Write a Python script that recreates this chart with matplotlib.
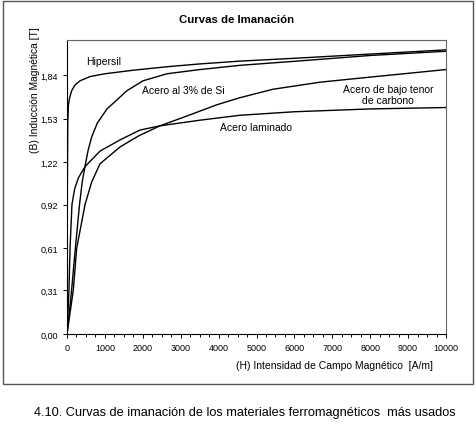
import matplotlib
matplotlib.use("Agg")
import matplotlib.pyplot as plt
from matplotlib.patches import Rectangle
from matplotlib.ticker import MultipleLocator

plt.rcParams['font.family'] = ['Liberation Sans', 'DejaVu Sans']

# H [A/m] and B [T]
h_hipersil = [0, 5, 10, 20, 35, 60, 123, 210, 343, 607, 1000, 1741, 2639, 3509, 4565, 6000, 8000, 10000]
b_hipersil = [0, 0.6, 1.1, 1.5, 1.62, 1.67, 1.73, 1.77, 1.80, 1.83, 1.85, 1.875, 1.90, 1.92, 1.94, 1.96, 1.99, 2.02]

h_si = [0, 120, 220, 330, 400, 480, 560, 650, 800, 1055, 1583, 2005, 2639, 3509, 4565, 6069, 8000, 10000]
b_si = [0, 0.31, 0.61, 0.92, 1.08, 1.20, 1.31, 1.40, 1.50, 1.60, 1.73, 1.80, 1.85, 1.88, 1.91, 1.94, 1.98, 2.01]

h_lam = [0, 50, 80, 130, 200, 300, 475, 870, 1400, 1926, 2454, 3509, 4565, 6000, 8000, 10000]
b_lam = [0, 0.31, 0.61, 0.92, 1.03, 1.11, 1.19, 1.30, 1.38, 1.45, 1.48, 1.52, 1.555, 1.58, 1.60, 1.61]

h_carb = [0, 165, 255, 390, 475, 650, 870, 1400, 1900, 2454, 3166, 3958, 4565, 5435, 6675, 7400, 10000]
b_carb = [0, 0.31, 0.61, 0.80, 0.92, 1.08, 1.21, 1.33, 1.41, 1.48, 1.55, 1.63, 1.68, 1.74, 1.79, 1.81, 1.88]

y_ticks = ["0,00", "0,31", "0,61", "0,92", "1,22", "1,53", "1,84"]
x_ticks = list(range(0, 10001, 1000))

fig = plt.figure(figsize=(4.76, 4.39), dpi=100)
ax = fig.add_axes([0.1408, 0.2369, 0.937 - 0.1408, 0.9066 - 0.2369])

# outer frame around the chart
fig.patches.append(Rectangle((3 / 476, 1 - 385 / 439), 470 / 476, 383 / 439,
                             transform=fig.transFigure, fill=False,
                             edgecolor='#555555', linewidth=1.0))

for h, b in [(h_hipersil, b_hipersil), (h_si, b_si), (h_lam, b_lam), (h_carb, b_carb)]:
    ax.plot(h, b, color='black', linewidth=1.0)

ax.set_xlim(0, 10000)
ax.set_ylim(0, 2.09)
ax.set_xticks(x_ticks)
ax.set_xticklabels([str(v) for v in x_ticks])
ax.xaxis.set_minor_locator(MultipleLocator(250))
ax.set_yticks([float(t.replace(',', '.')) for t in y_ticks])
ax.set_yticklabels(y_ticks)
ax.tick_params(axis='both', which='major', labelsize=6.5, length=3, width=0.7)
ax.tick_params(axis='x', which='minor', length=2, width=0.7)
for s in ax.spines.values():
    s.set_color('#666666')
    s.set_linewidth(0.8)
ax.spines['left'].set_color('black')
ax.spines['bottom'].set_color('black')

ax.text(976, 1.94, "Hipersil", fontsize=7.5, ha='center', va='center')
ax.text(3061, 1.733, "Acero al 3% de Si", fontsize=7.5, ha='center', va='center')
ax.text(8470, 1.70, "Acero de bajo tenor\nde carbono", fontsize=7.5, ha='center', va='center',
        linespacing=1.1)
ax.text(4987, 1.47, "Acero laminado", fontsize=7.5, ha='center', va='center')

fig.text(237 / 476, 1 - 20 / 439, "Curvas de Imanación", fontsize=8.2, fontweight='bold',
         ha='center', va='center')
fig.text(35 / 476, 1 - 90 / 439, "(B) Inducción Magnética [T]", fontsize=7.4, rotation=90,
         ha='center', va='center')
fig.text(433 / 476, 1 - 366 / 439, "(H) Intensidad de Campo Magnético  [A/m]", fontsize=7.5,
         ha='right', va='center')
fig.text(245 / 476, 1 - 413 / 439,
         "4.10. Curvas de imanación de los materiales ferromagnéticos  más usados",
         fontsize=9.2, ha='center', va='center')

fig.savefig("out.png", dpi=100)
